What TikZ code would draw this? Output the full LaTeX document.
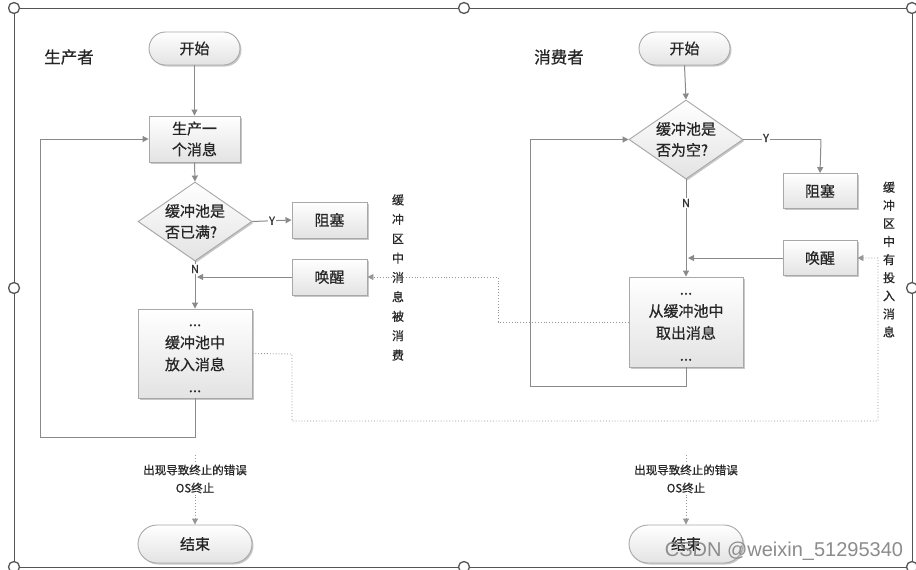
\documentclass[tikz,border=0pt]{standalone}
\usepackage{fontspec}
\setmainfont{Noto Sans CJK SC}[FakeBold=0.7]
\newfontfamily\wmfont{Liberation Sans}
\usetikzlibrary{shapes.geometric,arrows.meta,shadows}
\definecolor{linec}{HTML}{8A8A8A}
\definecolor{boxb}{HTML}{A8A8A8}
\definecolor{framec}{HTML}{555555}
\newcommand\dotline{\vphantom{缓}...}
\tikzset{
  box/.style={draw=boxb, line width=0.9pt, top color=white, bottom color=black!11,
    drop shadow={shadow xshift=1.5pt,shadow yshift=-1.5pt,opacity=0.22,fill=black},
    font=\fontsize{15}{21}\selectfont, align=center, inner sep=0pt, text=black!85},
  term/.style={box},
  dia/.style={box, diamond, aspect=1.44, align=left},
  arr/.style={draw=linec, line width=1pt, -{Triangle[width=6pt,length=6pt]}},
  ln/.style={draw=linec, line width=1pt},
  dots/.style={draw=linec!90, dotted, line width=0.9pt},
  dotarr/.style={dots, -{Triangle[width=6pt,length=6pt]}},
  yn/.style={font=\fontsize{11}{11}\selectfont, fill=white, inner sep=1pt, text=black!80},
  vtext/.style={font=\fontsize{12}{19.4}\selectfont, align=center, inner sep=0pt, text=black!85},
  smalltext/.style={font=\fontsize{11.5}{18}\selectfont, align=center, fill=white, inner sep=1pt, text=black!85},
  title/.style={font=\fontsize{16.5}{20}\selectfont, text=black!85},
  handle/.style={circle, draw=framec, fill=white, line width=1.3pt, minimum size=11pt, inner sep=0pt}
}
\begin{document}
\begin{tikzpicture}[x=1pt,y=-1pt]
\useasboundingbox (0,0) rectangle (916,570);
\fill[white] (0,0) rectangle (916,570);
% frame
\draw[framec, line width=1pt] (14,8) rectangle (912,567);

% ---------- producer ----------
\node[title] (ptitle) at (69,57) {生产者};
\node[term, rounded corners=16.5pt, minimum width=91pt, minimum height=33pt] (pstart) at (194.5,48.5) {开始};
\node[box, minimum width=91pt, minimum height=46pt] (pmake) at (194.5,139) {生产一\\个消息};
\node[dia, minimum width=114pt, minimum height=79pt] (pfull) at (195,221.5) {缓冲池是\\否已满?};
\node[box, minimum width=75pt, minimum height=36pt] (pblock) at (329.5,220) {阻塞};
\node[box, minimum width=75pt, minimum height=36pt] (pwake) at (329.5,277) {唤醒};
\node[box, minimum width=114pt, minimum height=89pt, font=\fontsize{15}{22}\selectfont] (pput) at (195,353.5) {\dotline\\缓冲池中\\放入消息\\\dotline};
\node[term, rounded corners=19pt, minimum width=114pt, minimum height=38pt] (pend) at (195,544) {结束};

\draw[arr] (pstart.south) -- (pmake.north);
\draw[arr] (pmake.south) -- (pfull.north);
\draw[arr] (pfull.east) -- node[yn, pos=0.5] {Y} (pblock.west);
\draw[arr] (pfull.south) -- (pput.north);
\node[yn] (pn) at (195,269) {N};
\coordinate (pwj) at (197,277);
\draw[arr] (pwake.west) -- (pwj);
\draw[arr] (pput.south) -- (195,437) -- (40,437) |- (pmake.west);

% ---------- consumer ----------
\node[title] (ctitle) at (559,57) {消费者};
\node[term, rounded corners=16.5pt, minimum width=91pt, minimum height=33pt] (cstart) at (684.5,48.5) {开始};
\node[dia, minimum width=114pt, minimum height=79pt] (cempty) at (686,139.5) {缓冲池是\\否为空?};
\node[box, minimum width=74pt, minimum height=35pt] (cblock) at (820,191) {阻塞};
\node[box, minimum width=74pt, minimum height=35pt] (cwake) at (820,258) {唤醒};
\node[box, minimum width=114pt, minimum height=90pt, font=\fontsize{15}{22}\selectfont] (ctake) at (686,322) {\dotline\\从缓冲池中\\取出消息\\\dotline};
\node[term, rounded corners=19pt, minimum width=114pt, minimum height=38pt] (cend) at (686,544) {结束};
\node[vtext, font=\fontsize{12}{18.1}\selectfont] (cvt) at (889,259.5) {缓\\冲\\区\\中\\有\\投\\入\\消\\息};

\draw[arr] (cstart.south) -- (cempty.north);
\draw[ln] (cempty.east) -- (821,139.5);
\draw[arr] (821,139.5) -- (cblock.north);
\node[yn] (cy) at (766,138) {Y};
\draw[arr] (cempty.south) -- (ctake.north);
\node[yn] (cn) at (686,203) {N};
\coordinate (cwj) at (688,258);
\draw[arr] (cwake.west) -- (cwj);
\draw[arr] (ctake.south) -- (686,386) -- (530,386) |- (cempty.west);

% ---------- dotted cross links ----------
\draw[dotarr] (pput.east) -- (292,354) -- (292,421) -- (878,421) |- (cwake.east);
\draw[dotarr] (ctake.west) -- (498,322) |- (pwake.east);
\node[vtext] (pvt) at (398,277.5) {缓\\冲\\区\\中\\消\\息\\被\\消\\费};

% ---------- ends ----------
\node[smalltext] (ptxt) at (195,479) {出现导致终止的错误\\OS终止};
\coordinate (pts) at (195,455);
\draw[dots] (pts) -- (ptxt.north);
\draw[dotarr] (ptxt.south) -- (pend.north);
\node[smalltext] (ctxt) at (686,479) {出现导致终止的错误\\OS终止};
\coordinate (cts) at (686,455);
\draw[dots] (cts) -- (ctxt.north);
\draw[dotarr] (ctxt.south) -- (cend.north);

% handles
\foreach \p in {(14,8),(464,8),(912,8),(14,288),(912,288),(14,567),(464,567),(912,567)}
  \node[handle] at \p {};

% watermark
\node[font=\wmfont\fontsize{20}{20}\selectfont, text=black!45] (wm) at (784,551) {CSDN @weixin\_51295340};
\end{tikzpicture}
\end{document}
